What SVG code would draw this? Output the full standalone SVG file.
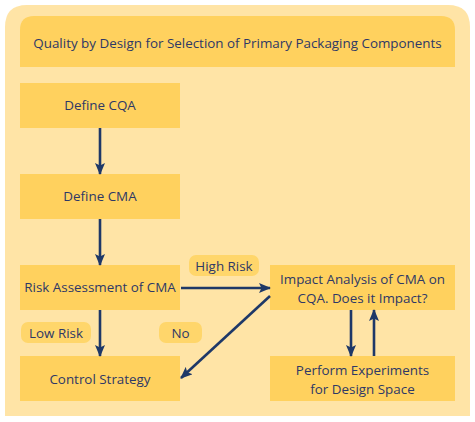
<svg xmlns="http://www.w3.org/2000/svg" width="475" height="422" viewBox="0 0 475 422">
<style>
.bg{fill:#FFE4A6}
.box{fill:#FFD15E}
.lbl{fill:#FFD66B}
text{font-family:"Open Sans","Noto Sans",sans-serif;font-size:13.4px;fill:#2E3866;text-anchor:middle}
.c{stroke:#1E3868;stroke-width:2.6;fill:none}
</style>
<defs>
<marker id="ah" markerWidth="12" markerHeight="10" refX="11" refY="5" orient="auto" markerUnits="userSpaceOnUse">
<path d="M0,0 L12,5 L0,10 L2.5,5 Z" fill="#1E3868"/>
</marker>
</defs>
<rect width="475" height="422" fill="#fff"/>
<path class="bg" d="M5,416 V27 Q5,5 27,5 H448 Q470,5 470,27 V416 Z"/>
<g id="title">
<path class="box" d="M20,67 V30 Q20,16 34,16 H441 Q455,16 455,30 V67 Z"/>
<text x="237.5" y="47.5">Quality by Design for Selection of Primary Packaging Components</text>
</g>
<g id="defineCQA"><rect class="box" x="20" y="83" width="160" height="45"/><text x="100" y="110">Define CQA</text></g>
<g id="defineCMA"><rect class="box" x="20" y="174" width="160" height="45"/><text x="100" y="201">Define CMA</text></g>
<g id="risk"><rect class="box" x="20" y="265" width="160" height="45"/><text x="100" y="292">Risk Assessment of CMA</text></g>
<g id="control"><rect class="box" x="20" y="356" width="160" height="45"/><text x="100" y="384">Control Strategy</text></g>
<g id="impact"><rect class="box" x="270" y="265" width="185" height="45"/><text x="362.5" y="284">Impact Analysis of CMA on</text><text x="362.5" y="303">CQA. Does it Impact?</text></g>
<g id="experiments"><rect class="box" x="270" y="356" width="185" height="45"/><text x="362.5" y="375">Perform Experiments</text><text x="362.5" y="394">for Design Space</text></g>
<g id="highRisk"><rect class="lbl" x="189" y="255" width="70" height="21" rx="7"/><text x="224" y="271">High Risk</text></g>
<g id="lowRisk"><rect class="lbl" x="21" y="322" width="70" height="21" rx="7"/><text x="56" y="338">Low Risk</text></g>
<g id="no"><rect class="lbl" x="159" y="322" width="43" height="21" rx="7"/><text x="180.5" y="338">No</text></g>
<g id="connectors">
<line class="c" x1="100" y1="128" x2="100" y2="174" marker-end="url(#ah)"/>
<line class="c" x1="100" y1="219" x2="100" y2="265" marker-end="url(#ah)"/>
<line class="c" x1="100" y1="310" x2="100" y2="356" marker-end="url(#ah)"/>
<line class="c" x1="181" y1="288" x2="270" y2="288" marker-end="url(#ah)"/>
<line class="c" x1="270" y1="296" x2="181" y2="378" marker-end="url(#ah)"/>
<line class="c" x1="351" y1="310" x2="351" y2="356" marker-end="url(#ah)"/>
<line class="c" x1="374" y1="356" x2="374" y2="310" marker-end="url(#ah)"/>
</g>
</svg>
